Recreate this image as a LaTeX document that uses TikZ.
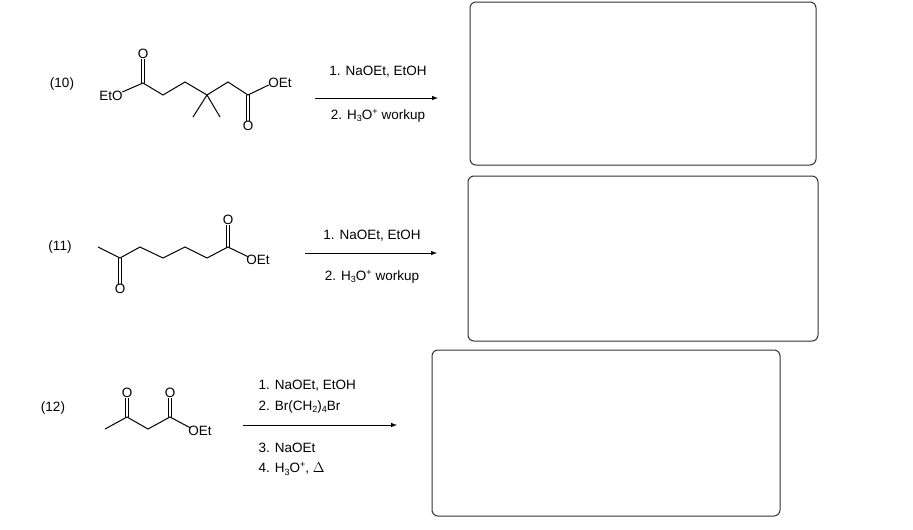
\documentclass[tikz,border=0pt]{standalone}
\usepackage{fontspec}
\setmainfont{Liberation Sans}
\usetikzlibrary{calc}
\newcommand{\sbs}[1]{\raisebox{-0.3ex}{\fontsize{9}{10}\selectfont #1}}
\newcommand{\sps}[1]{\raisebox{0.7ex}{\fontsize{9}{10}\selectfont #1}}
\begin{document}
\begin{tikzpicture}[x=1pt,y=-1pt,
  bd/.style={line width=1pt},
  lbl/.style={font=\fontsize{13.5}{15}\selectfont,inner sep=0.5pt},
  box/.style={draw=black!80,line width=1pt,rounded corners=6pt},
  arr/.style={line width=1pt,-latex}]
\useasboundingbox (0,0) rectangle (913,530);
% boxes
\draw[box] (470,2) rectangle (816,165);
\draw[box] (468,176) rectangle (818,341);
\draw[box] (432,350) rectangle (780,516);
% labels
\node[lbl] (l10) at (62,84) {(10)};
\node[lbl] (l11) at (60,247) {(11)};
\node[lbl] (l12) at (53,408) {(12)};
% molecule 10
\node[lbl] (eto) at (111,96) {EtO};
\node[lbl] (o1) at (143,54) {O};
\node[lbl] (o2) at (248,126) {O};
\node[lbl] (oet1) at (280,83) {OEt};
\coordinate (a1) at (143,83); \coordinate (a2) at (163,95); \coordinate (a3) at (185,82);
\coordinate (a4) at (207,95); \coordinate (m1) at (193,117); \coordinate (m2) at (220,117);
\coordinate (a5) at (228,82); \coordinate (a6) at (248,95);
\draw[bd] ($(eto.east)+(-1,-4)$) -- (a1) -- (a2) -- (a3) -- (a4) -- (a5) -- (a6) -- ($(oet1.west)+(1,2)$);
\draw[bd] (m1) -- (a4) -- (m2);
\draw[bd] ($(a1)+(-1.7,0)$) -- ($(o1.south)+(-1.7,0)$);
\draw[bd] ($(a1)+(1.7,0)$) -- ($(o1.south)+(1.7,0)$);
\draw[bd] ($(a6)+(-1.7,0)$) -- ($(o2.north)+(-1.7,0)$);
\draw[bd] ($(a6)+(1.7,0)$) -- ($(o2.north)+(1.7,0)$);
% arrow 10
\coordinate (s10) at (315,98); \coordinate (e10) at (438,98);
\draw[arr] (s10) -- (e10);
\node[lbl] (t10a) at (378,72) {1. NaOEt, EtOH};
\node[lbl] (t10b) at (378,116) {2. H\sbs{3}O\sps{+} workup};
% molecule 11
\coordinate (b0) at (98,247); \coordinate (b1) at (120,258); \coordinate (b2) at (140,247);
\coordinate (b3) at (163,258); \coordinate (b4) at (185,247); \coordinate (b5) at (207,258);
\coordinate (b6) at (228,247);
\node[lbl] (o3) at (120,289) {O};
\node[lbl] (o4) at (228,220) {O};
\node[lbl] (oet2) at (258,260) {OEt};
\draw[bd] (b0) -- (b1) -- (b2) -- (b3) -- (b4) -- (b5) -- (b6) -- ($(oet2.north west)+(2,2)$);
\draw[bd] ($(b1)+(-1.7,0)$) -- ($(o3.north)+(-1.7,0)$);
\draw[bd] ($(b1)+(1.7,0)$) -- ($(o3.north)+(1.7,0)$);
\draw[bd] ($(b6)+(-1.7,0)$) -- ($(o4.south)+(-1.7,0)$);
\draw[bd] ($(b6)+(1.7,0)$) -- ($(o4.south)+(1.7,0)$);
\coordinate (s11) at (305,253); \coordinate (e11) at (437,253);
\draw[arr] (s11) -- (e11);
\node[lbl] (t11a) at (372,236) {1. NaOEt, EtOH};
\node[lbl] (t11b) at (372,277) {2. H\sbs{3}O\sps{+} workup};
% molecule 12
\coordinate (c0) at (105,429); \coordinate (c1) at (127,417); \coordinate (c2) at (148,429);
\coordinate (c3) at (170,417);
\node[lbl] (o5) at (127,393) {O};
\node[lbl] (o6) at (170,393) {O};
\node[lbl] (oet3) at (200,431) {OEt};
\draw[bd] (c0) -- (c1) -- (c2) -- (c3) -- ($(oet3.north west)+(2,2)$);
\draw[bd] ($(c1)+(-1.7,0)$) -- ($(o5.south)+(-1.7,0)$);
\draw[bd] ($(c1)+(1.7,0)$) -- ($(o5.south)+(1.7,0)$);
\draw[bd] ($(c3)+(-1.7,0)$) -- ($(o6.south)+(-1.7,0)$);
\draw[bd] ($(c3)+(1.7,0)$) -- ($(o6.south)+(1.7,0)$);
\coordinate (s12) at (243,425); \coordinate (e12) at (397,425);
\draw[arr] (s12) -- (e12);
\node[lbl,anchor=west] (t12a) at (258,386) {1. NaOEt, EtOH};
\node[lbl,anchor=west] (t12b) at (258,407) {2. Br(CH\sbs{2})\sbs{4}Br};
\node[lbl,anchor=west] (t12c) at (258,448) {3. NaOEt};
\node[lbl,anchor=west] (t12d) at (258,469) {4. H\sbs{3}O\sps{+}, $\Delta$};
\end{tikzpicture}
\end{document}
